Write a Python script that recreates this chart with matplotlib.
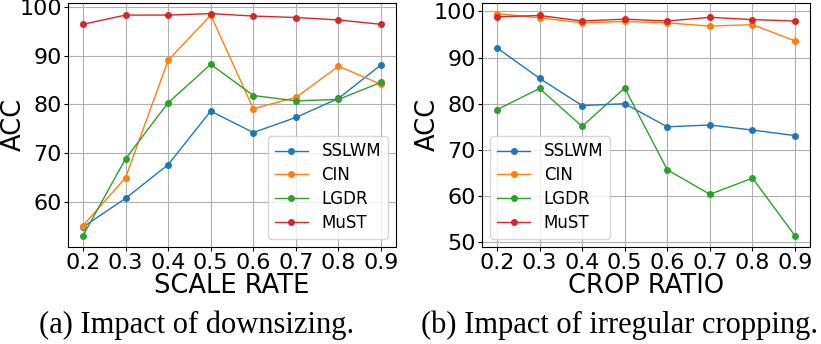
import matplotlib
matplotlib.use("Agg")
import matplotlib.pyplot as plt

x = [0.2, 0.3, 0.4, 0.5, 0.6, 0.7, 0.8, 0.9]
methods = ["SSLWM", "CIN", "LGDR", "MuST"]

# (a) downsizing
scale_sslwm = [54.8, 60.7, 67.6, 78.6, 74.2, 77.3, 81.2, 88.1]
scale_cin = [55.1, 64.9, 89.0, 98.3, 79.1, 81.4, 87.8, 84.1]
scale_lgdr = [53.0, 68.8, 80.3, 88.2, 81.8, 80.7, 81.0, 84.5]
scale_must = [96.4, 98.3, 98.3, 98.6, 98.1, 97.8, 97.3, 96.4]

# (b) irregular cropping
crop_sslwm = [92.1, 85.5, 79.6, 80.0, 75.0, 75.4, 74.3, 73.1]
crop_cin = [99.5, 98.6, 97.5, 97.8, 97.5, 96.8, 97.1, 93.6]
crop_lgdr = [78.7, 83.3, 75.1, 83.4, 65.7, 60.4, 63.9, 51.4]
crop_must = [98.8, 99.1, 97.9, 98.3, 97.9, 98.7, 98.2, 97.9]

tick_labels = ["0.2", "0.3", "0.4", "0.5", "0.6", "0.7", "0.8", "0.9"]
yticks_a = [60, 70, 80, 90, 100]
yticks_b = [50, 60, 70, 80, 90, 100]
xlabels = ["SCALE RATE", "CROP RATIO"]
captions = ["(a) Impact of downsizing.", "(b) Impact of irregular cropping."]

colors = ["#1f77b4", "#ff7f0e", "#2ca02c", "#d62728"]

fig = plt.figure(figsize=(8.21, 3.44), dpi=100)
ax1 = fig.add_axes([68/821, 1-247/344, 328/821, 244.5/344])
ax2 = fig.add_axes([482/821, 1-247/344, 328/821, 244.5/344])

data = [
    [scale_sslwm, scale_cin, scale_lgdr, scale_must],
    [crop_sslwm, crop_cin, crop_lgdr, crop_must],
]
legend_locs = ["lower right", "lower left"]
yticks_all = [yticks_a, yticks_b]

for ax, series, xl, loc, yt in zip([ax1, ax2], data, xlabels, legend_locs, yticks_all):
    for name, ys, c in zip(methods, series, colors):
        ax.plot(x, ys, marker="o", markersize=4, linewidth=1, color=c, label=name)
    ax.set_xticks(x)
    ax.set_xticklabels(tick_labels)
    ax.set_yticks(yt)
    ax.tick_params(labelsize=16, length=3, pad=1.5)
    ax.set_xlabel(xl, fontsize=18.5, labelpad=0)
    ax.set_ylabel("ACC", fontsize=18.5)
    ax.yaxis.set_label_coords(-0.125, 0.5)
    ax.grid(True, color="#b0b0b0", linewidth=0.8)
    ax.legend(loc=loc, fontsize=12, labelspacing=0.35, borderaxespad=0.5)

fig.text(197/821, 11/344, captions[0], ha="center", va="baseline",
         fontsize=22, family="Liberation Serif")
fig.text(619/821, 11/344, captions[1], ha="center", va="baseline",
         fontsize=22, family="Liberation Serif")

fig.savefig("out.png", dpi=100)
